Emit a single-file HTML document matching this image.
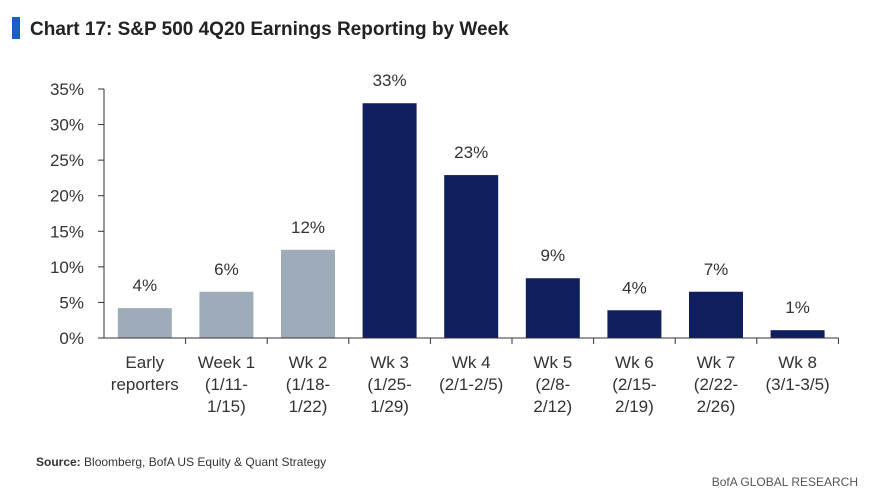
<!DOCTYPE html>
<html><head><meta charset="utf-8"><style>
html,body{margin:0;padding:0;background:#fff;width:872px;height:501px;overflow:hidden;font-family:"Liberation Sans",sans-serif;}
</style></head><body>
<svg width="872" height="501" xmlns="http://www.w3.org/2000/svg">
<rect x="12" y="17" width="8" height="22" fill="#1a5fc8"/>
<text x="30" y="35" font-size="19" font-weight="bold" fill="#222">Chart 17: S&amp;P 500 4Q20 Earnings Reporting by Week</text>
<g id="plot"></g>
<text x="36" y="466" font-size="12" fill="#333"><tspan font-weight="bold">Source:</tspan>  Bloomberg, BofA US Equity &amp; Quant Strategy</text>
<text x="858" y="486" font-size="12" fill="#555" text-anchor="end">BofA GLOBAL RESEARCH</text>
</svg>
<script>
const categories=[["Early","reporters"],["Week 1","(1/11-","1/15)"],["Wk 2","(1/18-","1/22)"],["Wk 3","(1/25-","1/29)"],["Wk 4","(2/1-2/5)"],["Wk 5","(2/8-","2/12)"],["Wk 6","(2/15-","2/19)"],["Wk 7","(2/22-","2/26)"],["Wk 8","(3/1-3/5)"]];
const values=[4.2,6.5,12.4,33,22.9,8.4,3.9,6.5,1.1];
const labels=["4%","6%","12%","33%","23%","9%","4%","7%","1%"];
const reported=[true,true,true,false,false,false,false,false,false];
const ticks=[0,5,10,15,20,25,30,35];
const NS="http://www.w3.org/2000/svg";
const g=document.getElementById('plot');
const y0=338,yMax=35,yTop=89,x0=104,step=81.6,bw=54;
const y=v=>y0-(v/yMax)*(y0-yTop);
const xc=i=>x0+step*(i+0.5);
function mk(t,a){const e=document.createElementNS(NS,t);for(const k in a)e.setAttribute(k,a[k]);g.appendChild(e);return e;}
ticks.forEach(t=>{
 const e=mk('text',{x:84,y:y(t)+6,'font-size':17,fill:'#333','text-anchor':'end'});e.textContent=t+'%';
 
 
 const l=mk('line',{x1:x0-6,x2:x0,y1:y(t),y2:y(t),stroke:'#333','stroke-width':1});
 
 
});
const ya=mk('line',{x1:x0,x2:x0,y1:y(35),y2:y0,stroke:'#333'});


values.forEach((v,i)=>{
 const r=mk('rect',{x:xc(i)-bw/2,y:y(v),width:bw,height:y0-y(v),fill:reported[i]?'#9eabb8':'#0f1f5e'});
 
 
 const t=mk('text',{x:xc(i),y:y(v)-17,'font-size':17,fill:'#333','text-anchor':'middle'});t.textContent=labels[i];
 
 
 categories[i].forEach((s,j)=>{
  const c=mk('text',{x:xc(i),y:368+j*22,'font-size':17,fill:'#333','text-anchor':'middle'});c.textContent=s;
  
  
 });
 const tk=mk('line',{x1:x0+step*(i+1),x2:x0+step*(i+1),y1:y0,y2:y0+6,stroke:'#333'});
 
 
});
const xa=mk('line',{x1:x0,x2:x0+step*values.length,y1:y0,y2:y0,stroke:'#333'});


</script>
</body></html>
